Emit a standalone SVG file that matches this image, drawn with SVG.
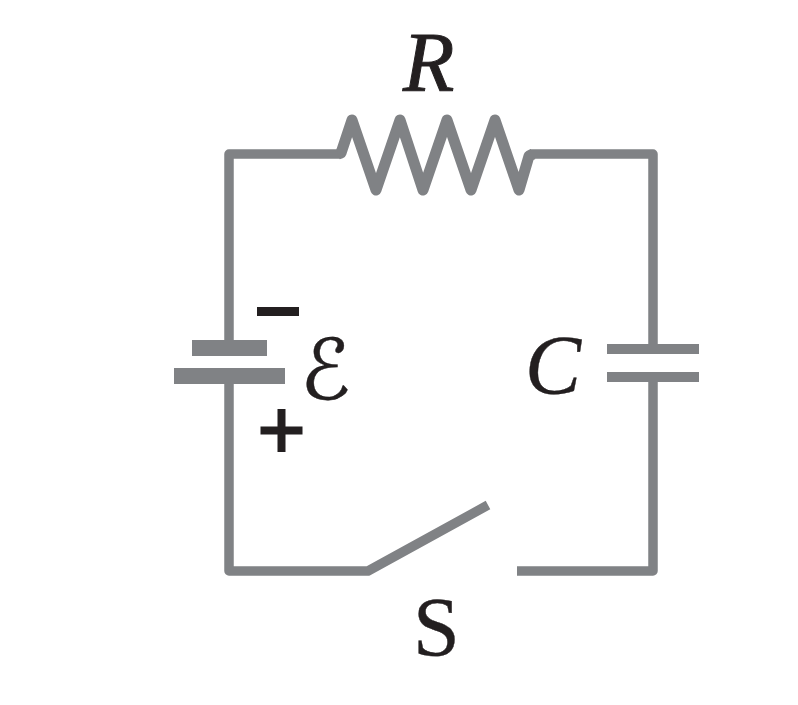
<svg xmlns="http://www.w3.org/2000/svg" width="798" height="705" viewBox="0 0 798 705">
<style>
.w{fill:none;stroke:#808285;stroke-width:9.500;stroke-linejoin:round;stroke-linecap:butt}
.z{stroke-width:11}
.p{fill:#808285}
.s{fill:#231f20}
.t{font-family:"Liberation Serif",serif;fill:#231f20;stroke:#231f20;stroke-width:.4;font-size:84px}
</style>
<rect width="798" height="705" fill="#fff"/>
<g id="connectors">
<path class="w" d="M229 345V154H340"/>
<path class="w z" d="M338 154L341 153L352 120L376 190L400 120L423 190L447 120L471 190L495 120L519 190L529 156L533 154"/>
<path class="w" d="M530 154H653V345"/>
<path class="w" d="M653 380V571H517"/>
<path class="w" d="M229 380V571H368L488 505"/>
</g>
<g id="resistor"><text class="t" x="403" y="91" font-style="italic" style="stroke-width:1">R</text></g>
<g id="battery">
<rect class="p" x="192" y="340" width="75" height="16"/>
<rect class="p" x="174" y="368" width="111" height="16"/>
<rect class="s" x="257" y="307" width="42" height="9"/>
<path class="s" d="M277.500 409h8v17.500h17v8h-17v17.500h-8v-17.500h-17v-8h17z"/>
<text class="t" x="300" y="399" font-size="90" style="font-family:'DejaVu Serif','DejaVu Sans',serif">ℰ</text>
</g>
<g id="capacitor">
<rect class="p" x="607" y="344" width="92" height="10"/>
<rect class="p" x="607" y="372" width="92" height="10"/>
<text class="t" x="525" y="394" font-style="italic">C</text>
</g>
<g id="switch"><text class="t" x="413" y="656">S</text></g>
</svg>
